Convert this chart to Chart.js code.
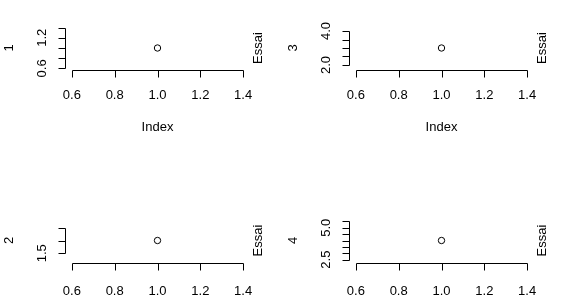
<!DOCTYPE html>
<html>
<head>
<meta charset="utf-8">
<script src="https://cdn.jsdelivr.net/npm/chart.js@4.4.1/dist/chart.umd.min.js"></script>
<style>
  body { margin: 0; background: #fff; width: 567px; height: 297px; position: relative; overflow: hidden; }
  canvas { position: absolute; }
</style>
</head>
<body>
<canvas id="p1" width="284" height="149" style="left:0;top:0"></canvas>
<canvas id="p3" width="283" height="149" style="left:284px;top:0"></canvas>
<canvas id="p2" width="284" height="148" style="left:0;top:149px"></canvas>
<canvas id="p4" width="283" height="148" style="left:284px;top:149px"></canvas>
<script>
// valeurs du graphique (un point par panneau, a l'index 1)
var indexValues = [1];
var panelValues = [1, 3, 2, 4];
var panelNames = ['1', '3', '2', '4'];
var xTicks = [0.6, 0.8, 1.0, 1.2, 1.4];
var xTickLabels = ['0.6', '0.8', '1.0', '1.2', '1.4'];
var xLimits = [0.6, 1.4];
var yLimits = [[0.6, 1.4], [1.8, 4.2], [1.2, 2.8], [2.4, 5.6]];
var yTicks = [
    [0.6, 0.8, 1.0, 1.2, 1.4],
    [2.0, 2.5, 3.0, 3.5, 4.0],
    [1.5, 2.0, 2.5],
    [2.5, 3.0, 3.5, 4.0, 4.5, 5.0, 5.5]
];
// R ne garde que les etiquettes qui ne se chevauchent pas
var yTickLabels = [
    ['0.6', '', '', '1.2', ''],
    ['2.0', '', '', '', '4.0'],
    ['1.5', '', ''],
    ['2.5', '', '', '', '', '5.0', '']
];
var xTitle = 'Index';
var sideText = 'Essai';

var FONT = '13px "Liberation Sans", Arial, sans-serif';

// axes facon R : ligne de la premiere a la derniere graduation, decalees du cadre
var rAxes = {
    id: 'rAxes',
    afterDraw: function (chart) {
        var o = chart.options.plugins.rAxes;
        var ctx = chart.ctx;
        var xs = chart.scales.x, ys = chart.scales.y, a = chart.chartArea;
        ctx.save();
        ctx.strokeStyle = '#000';
        ctx.fillStyle = '#000';
        ctx.lineWidth = 1;
        ctx.font = FONT;
        ctx.textAlign = 'center';
        ctx.textBaseline = 'middle';

        // axe x
        var yb = Math.round(a.bottom) + 0.5;
        ctx.beginPath();
        ctx.moveTo(Math.round(xs.getPixelForValue(xTicks[0])) + 0.5, yb);
        ctx.lineTo(Math.round(xs.getPixelForValue(xTicks[xTicks.length - 1])) + 0.5, yb);
        xTicks.forEach(function (t) {
            var px = Math.round(xs.getPixelForValue(t)) + 0.5;
            ctx.moveTo(px, yb);
            ctx.lineTo(px, yb + 7);
        });
        ctx.stroke();
        xTicks.forEach(function (t, i) {
            ctx.fillText(xTickLabels[i], xs.getPixelForValue(t), yb + o.labelGap);
        });
        ctx.fillText(xTitle, (a.left + a.right) / 2, yb + 57);

        // axe y
        var xl = Math.round(a.left) + 0.5;
        var ticks = o.ticks;
        ctx.beginPath();
        ctx.moveTo(xl, Math.round(ys.getPixelForValue(ticks[0])) + 0.5);
        ctx.lineTo(xl, Math.round(ys.getPixelForValue(ticks[ticks.length - 1])) + 0.5);
        ticks.forEach(function (t) {
            var py = Math.round(ys.getPixelForValue(t)) + 0.5;
            ctx.moveTo(xl, py);
            ctx.lineTo(xl - 7, py);
        });
        ctx.stroke();

        function vtext(txt, x, y) {
            ctx.save();
            ctx.translate(x, y);
            ctx.rotate(-Math.PI / 2);
            ctx.fillText(txt, 0, 0);
            ctx.restore();
        }
        ticks.forEach(function (t, i) {
            if (o.labels[i]) vtext(o.labels[i], xl - 23, ys.getPixelForValue(t));
        });
        var midY = (a.top + a.bottom) / 2;
        vtext(o.name, xl - 56, midY);
        vtext(sideText, a.right + 8, midY);
        ctx.restore();
    }
};

function makePanel(id, k, pad, gap) {
    var lo = yLimits[k][0], hi = yLimits[k][1];
    var ey = (hi - lo) * 0.04, ex = (xLimits[1] - xLimits[0]) * 0.04;
    var pts = indexValues.map(function (x) { return { x: x, y: panelValues[k] }; });
    return new Chart(document.getElementById(id).getContext('2d'), {
        type: 'scatter',
        data: {
            datasets: [{
                data: pts,
                pointStyle: 'circle',
                pointRadius: 3.2,
                pointBorderWidth: 1,
                pointBorderColor: '#000',
                pointBackgroundColor: 'rgba(0,0,0,0)'
            }]
        },
        options: {
            responsive: false,
            animation: false,
            devicePixelRatio: 1,
            layout: { padding: pad },
            plugins: {
                legend: { display: false },
                tooltip: { enabled: false },
                rAxes: { ticks: yTicks[k], labels: yTickLabels[k], name: panelNames[k], labelGap: gap }
            },
            scales: {
                x: { type: 'linear', display: false, min: xLimits[0] - ex, max: xLimits[1] + ex },
                y: { type: 'linear', display: false, min: lo - ey, max: hi + ey }
            }
        },
        plugins: [rAxes]
    });
}

makePanel('p1', 0, { left: 65, right: 34, top: 26, bottom: 79 }, 25);
makePanel('p3', 1, { left: 65, right: 33, top: 26, bottom: 79 }, 25);
makePanel('p2', 2, { left: 65, right: 34, top: 69.5, bottom: 34.5 }, 28);
makePanel('p4', 3, { left: 65, right: 33, top: 69.5, bottom: 34.5 }, 28);
</script>
</body>
</html>
